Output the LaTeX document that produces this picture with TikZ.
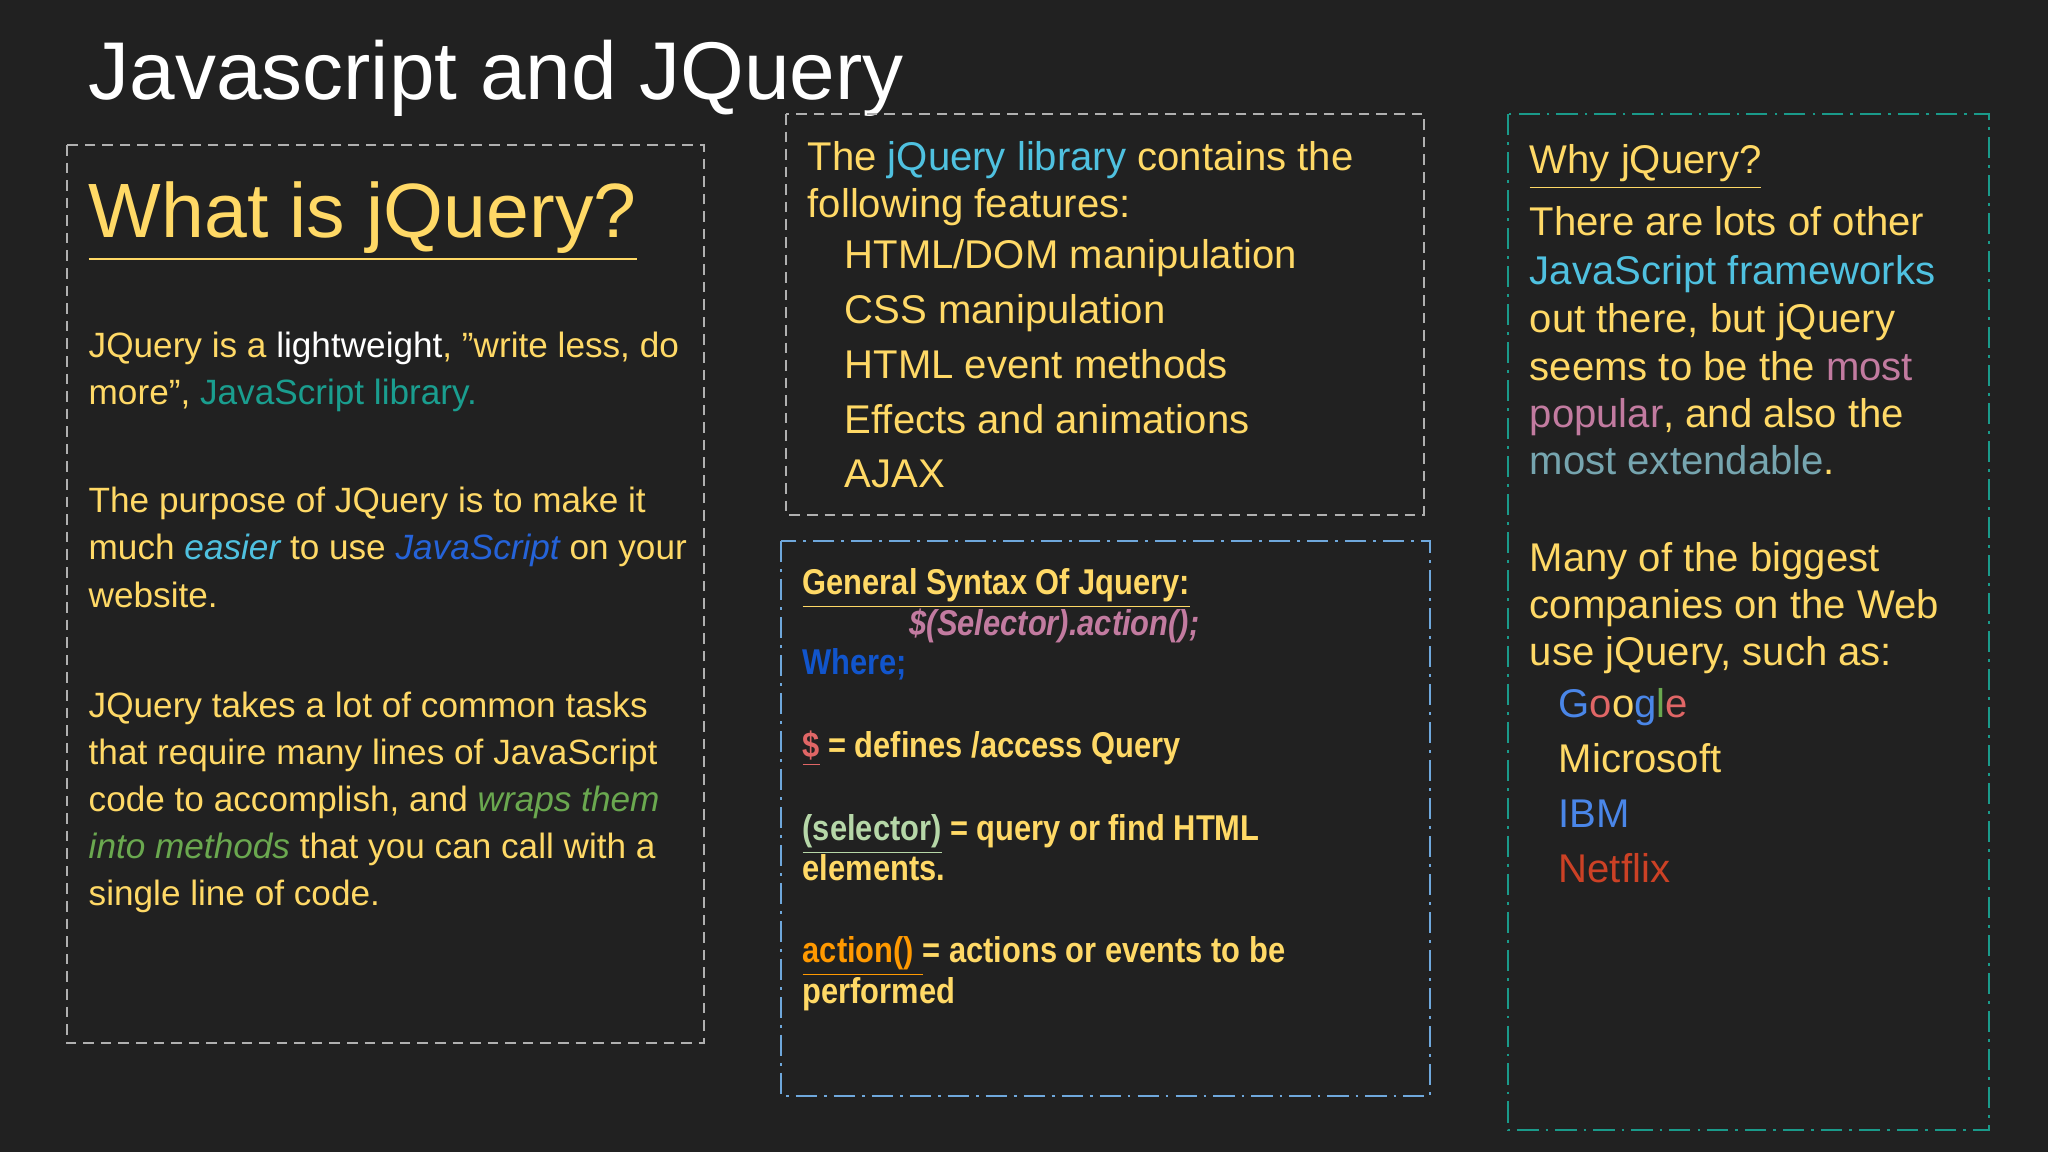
\documentclass[tikz,border=0pt]{standalone}
\usepackage{fontspec}
\setmainfont{Liberation Sans}
\newfontfamily\narrowf[FakeStretch=0.86]{Liberation Sans}
\newcommand\myul[1]{\underline{#1}}
\definecolor{bg}{HTML}{212121}
\definecolor{yl}{HTML}{FFD966}
\definecolor{teal}{HTML}{1A9E8F}
\definecolor{cy}{HTML}{4FC1E0}
\definecolor{bl}{HTML}{2563D9}
\definecolor{gr}{HTML}{6AA84F}
\definecolor{pk}{HTML}{C27BA0}
\definecolor{sb}{HTML}{76A5AF}
\definecolor{gb}{HTML}{4A86E8}
\definecolor{gred}{HTML}{E06666}
\definecolor{nf}{HTML}{CC4125}
\definecolor{selg}{HTML}{B6D7A8}
\definecolor{org}{HTML}{FF9900}
\definecolor{wb}{HTML}{1155CC}
\definecolor{gbox}{HTML}{B0B0B0}
\definecolor{bbox}{HTML}{6FA8DC}
\definecolor{tbox}{HTML}{1A9A8A}
\begin{document}
\begin{tikzpicture}[x=0.01cm,y=-0.01cm,
  txt/.style={anchor=base west,inner sep=0pt,text=yl},
  lbody/.style={txt,font=\fontsize{10}{12}\selectfont},
  mbody/.style={txt,font=\fontsize{11.4}{13}\selectfont},
  sbody/.style={txt,font=\narrowf\bfseries\fontsize{10.2}{12}\selectfont},
  rbody/.style={txt,font=\fontsize{11.4}{13}\selectfont},
  gdash/.style={draw=gbox,line width=0.7pt,dash pattern=on 3pt off 2pt},
  ddash/.style={line width=0.8pt,dash pattern=on 6pt off 2pt on 0.8pt off 2pt}]
\fill[bg] (0,0) rectangle (2048,1152);
\useasboundingbox (0,0) rectangle (2048,1152);
\node[txt,text=white,font=\fontsize{23.3}{26}\selectfont] (title) at (88,100) {Javascript and JQuery};
% boxes
\draw[gdash] (67,145) rectangle (704,1043);
\draw[gdash] (786,114) rectangle (1424,515);
\draw[ddash,draw=bbox] (781,541) rectangle (1430,1096);
\draw[ddash,draw=tbox] (1508,114) rectangle (1989,1130);
% left
\node[txt,font=\fontsize{21.9}{24}\selectfont] (what) at (88,238) {\myul{What is jQuery?}};
\node[lbody] (l1) at (88,358) {JQuery is a \textcolor{white}{lightweight}, "write less, do};
\node[lbody] (l2) at (88,405) {more", \textcolor{teal}{JavaScript library.}};
\node[lbody] (l3) at (88,513) {The purpose of JQuery is to make it};
\node[lbody] (l4) at (88,560) {much \textcolor{cy}{\itshape easier} to use \textcolor{bl}{\itshape JavaScript} on your};
\node[lbody] (l5) at (88,607) {website.};
\node[lbody] (l6) at (88,717) {JQuery takes a lot of common tasks};
\node[lbody] (l7) at (88,764) {that require many lines of JavaScript};
\node[lbody] (l8) at (88,811) {code to accomplish, and \textcolor{gr}{\itshape wraps them}};
\node[lbody] (l9) at (88,858) {\textcolor{gr}{\itshape into methods} that you can call with a};
\node[lbody] (l10) at (88,905) {single line of code.};
% middle top
\node[mbody] (m1) at (807,171) {The \textcolor{cy}{jQuery library} contains the};
\node[mbody] (m2) at (807,218) {following features:};
\node[mbody] (m3) at (844,269) {HTML/DOM manipulation};
\node[mbody] (m4) at (844,324) {CSS manipulation};
\node[mbody] (m5) at (844,379) {HTML event methods};
\node[mbody] (m6) at (844,434) {Effects and animations};
\node[mbody] (m7) at (844,488) {AJAX};
% syntax
\node[sbody] (s1) at (802,594) {\myul{General Syntax Of Jquery:}};
\node[sbody,text=pk] (s2) at (909,635) {\itshape \$(Selector).action();};
\node[sbody,text=wb] (s3) at (802,675) {Where;};
\node[sbody] (s4) at (802,757) {\textcolor{gred}{\myul{\$}} = defines /access Query};
\node[sbody] (s5) at (802,840) {\textcolor{selg}{\myul{(selector)}} = query or find HTML};
\node[sbody] (s6) at (802,880) {elements.};
\node[sbody] (s7) at (802,962) {\textcolor{org}{\myul{action()\ }}= actions or events to be};
\node[sbody] (s8) at (802,1003) {performed};
% right
\node[rbody] (r0) at (1529,174) {\myul{Why jQuery?}};
\node[rbody] (r1) at (1529,236) {There are lots of other};
\node[rbody] (r2) at (1529,285) {\textcolor{cy}{JavaScript frameworks}};
\node[rbody] (r3) at (1529,333) {out there, but jQuery};
\node[rbody] (r4) at (1529,381) {seems to be the \textcolor{pk}{most}};
\node[rbody] (r5) at (1529,428) {\textcolor{pk}{popular}, and also the};
\node[rbody] (r6) at (1529,475) {\textcolor{sb}{most extendable}.};
\node[rbody] (r7) at (1529,571) {Many of the biggest};
\node[rbody] (r8) at (1529,619) {companies on the Web};
\node[rbody] (r9) at (1529,666) {use jQuery, such as:};
\node[rbody] (r10) at (1558,717) {\textcolor{gb}{G}\textcolor{gred}{o}\textcolor{yl}{o}\textcolor{gb}{g}\textcolor{gr}{l}\textcolor{gred}{e}};
\node[rbody] (r11) at (1558,772) {Microsoft};
\node[rbody,text=gb] (r12) at (1558,827) {IBM};
\node[rbody,text=nf] (r13) at (1558,882) {Netflix};
\end{tikzpicture}
\end{document}
